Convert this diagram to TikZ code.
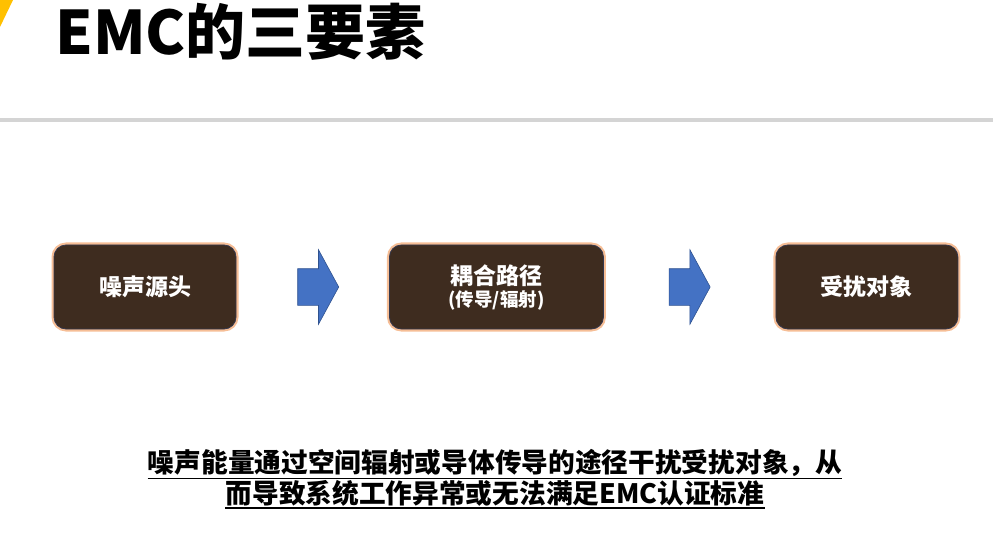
\documentclass[tikz,border=0pt]{standalone}
\usepackage{fontspec}
\setmainfont{Noto Sans CJK SC}
\usepackage{tikz}
\usetikzlibrary{shapes.arrows, positioning}

\definecolor{boxbrown}{RGB}{62,44,31}
\definecolor{boxedge}{RGB}{52,56,78}
\definecolor{boxglow}{RGB}{246,190,150}
\definecolor{arrowblue}{RGB}{68,114,196}
\definecolor{arrowedge}{RGB}{47,82,143}
\definecolor{rulegray}{RGB}{212,212,212}
\definecolor{cornergold}{RGB}{255,192,0}

\tikzset{
  element/.style={rectangle, rounded corners=12pt, fill=boxbrown, draw=boxedge,
    line width=0.8pt, minimum width=182pt, minimum height=84pt, text=white,
    align=center, font=\bfseries\fontsize{23pt}{27pt}\selectfont,
    preaction={draw=boxglow, line width=5pt}},
  flowarrow/.style={single arrow, fill=arrowblue, draw=arrowedge, line width=0.6pt,
    inner xsep=0pt, inner ysep=18pt, minimum height=41pt, minimum width=74pt,
    single arrow head extend=19pt, single arrow tip angle=123},
  note/.style={inner xsep=0pt, inner ysep=0pt, font=\bfseries\fontsize{26.7pt}{31pt}\selectfont},
  noteline/.style={line width=1.4pt}
}

\begin{document}
\begin{tikzpicture}[x=1pt, y=1pt]
    \useasboundingbox (0,0) rectangle (993,539);
    \fill[cornergold] (0,539) -- (13,539) -- (0,512) -- cycle;

    \node(title)[anchor=base west, inner sep=0pt,
      font=\bfseries\fontsize{60pt}{66pt}\selectfont] at (55,484) {EMC的三要素};
    \coordinate(rule_l) at (0,419);
    \coordinate(rule_r) at (993,419);
    \draw[rulegray, line width=4pt] (rule_l) -- (rule_r);

    % noise source -> coupling path -> victim
    \node(source)[element] at (145,252) {噪声源头};
    \node(arrow1)[flowarrow, right=61pt of source] {};
    \node(coupling)[element, minimum width=214pt, minimum height=84pt,
      right=50pt of arrow1]
      {耦合路径\\[-5pt]{\fontsize{18.5pt}{21pt}\selectfont (传导/辐射)}};
    \node(arrow2)[flowarrow, right=65pt of coupling] {};
    \node(victim)[element, right=65pt of arrow2] {受扰对象};

    \node(note1)[note, anchor=base] at (495,67)
      {噪声能量通过空间辐射或导体传导的途径干扰受扰对象，从};
    \node(note2)[note, anchor=base] at (495,36)
      {而导致系统工作异常或无法满足EMC认证标准};
    \draw[noteline] ([yshift=-2pt]note1.south west) -- ([yshift=-2pt]note1.south east);
    \draw[noteline] ([yshift=-2pt]note2.south west) -- ([yshift=-2pt]note2.south east);
\end{tikzpicture}
\end{document}
